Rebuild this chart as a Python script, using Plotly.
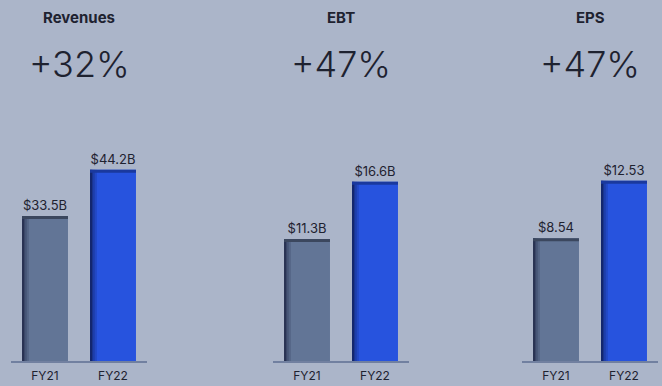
import plotly.graph_objects as go

panels = ["Revenues", "EBT", "EPS"]
growth = ["+32%", "+47%", "+47%"]
years = ["FY21", "FY22"]
values = [[33.5, 44.2], [11.3, 16.6], [8.54, 12.53]]
labels = [["$33.5B", "$44.2B"], ["$11.3B", "$16.6B"], ["$8.54", "$12.53"]]
ymax = [53.4, 21.4, 16.06]

BG = "#ABB5C9"
BAR_COLORS = ["#627596", "#2753DE"]
EDGE_COLORS = ["#3B475E", "#1A399E"]
TEXT = "#1E2230"
FONT = "Inter"

xdomains = [[11/662, 147/662], [273/662, 409/662], [522/662, 658/662]]
ydom = [25/386, 256/386]
BW = 0.676

fig = go.Figure()
layout = {}
for i, name in enumerate(panels):
    sfx = "" if i == 0 else str(i + 1)
    xa, ya = "x" + sfx, "y" + sfx
    fig.add_trace(go.Bar(
        x=years, y=values[i], xaxis=xa, yaxis=ya, width=BW,
        marker=dict(color=BAR_COLORS, line=dict(width=0)),
        text=labels[i], textposition="outside", cliponaxis=False,
        textfont=dict(family=FONT, size=13, color=TEXT),
        hoverinfo="skip", showlegend=False,
    ))
    # left edge shading strips
    for w, op in [(0.10, 0.15), (0.07, 0.18), (0.04, 0.25), (0.02, 0.3)]:
        fig.add_trace(go.Bar(
            x=years, y=values[i], xaxis=xa, yaxis=ya, width=w, offset=-BW/2,
            marker=dict(color="#0A1030", opacity=op, line=dict(width=0)),
            hoverinfo="skip", showlegend=False,
        ))
    # top edge shadow
    t = ymax[i] * 3 / 231
    fig.add_trace(go.Bar(
        x=years, y=[t, t], base=[v - t for v in values[i]], xaxis=xa, yaxis=ya, width=BW,
        marker=dict(color=EDGE_COLORS, line=dict(width=0)),
        hoverinfo="skip", showlegend=False,
    ))
    layout["xaxis" + sfx] = dict(
        domain=xdomains[i], anchor=ya, range=[-0.5, 1.5],
        showline=True, linecolor="#7180A0", linewidth=2,
        showgrid=False, zeroline=False, ticks="",
        tickfont=dict(family=FONT, size=12, color=TEXT),
        ticklabelstandoff=3,
        fixedrange=True,
    )
    layout["yaxis" + sfx] = dict(
        domain=ydom, anchor=xa, range=[0, ymax[i]],
        visible=False, fixedrange=True,
    )
    cx = (xdomains[i][0] + xdomains[i][1]) / 2
    fig.add_annotation(
        x=cx, y=1 - 17/386, xref="paper", yref="paper", text="<b>" + name + "</b>",
        showarrow=False, xanchor="center", yanchor="middle",
        font=dict(family=FONT, size=15, color=TEXT),
    )
    fig.add_annotation(
        x=cx, y=1 - 64/386, xref="paper", yref="paper", text=growth[i],
        showarrow=False, xanchor="center", yanchor="middle",
        font=dict(family=FONT, size=36, color=TEXT, weight=300),
    )

fig.update_layout(
    **layout,
    barmode="overlay",
    width=662, height=386,
    margin=dict(l=0, r=0, t=0, b=0),
    paper_bgcolor=BG, plot_bgcolor=BG,
    font=dict(family=FONT, color=TEXT),
)
fig.write_html("out.html", config={"displayModeBar": False})
